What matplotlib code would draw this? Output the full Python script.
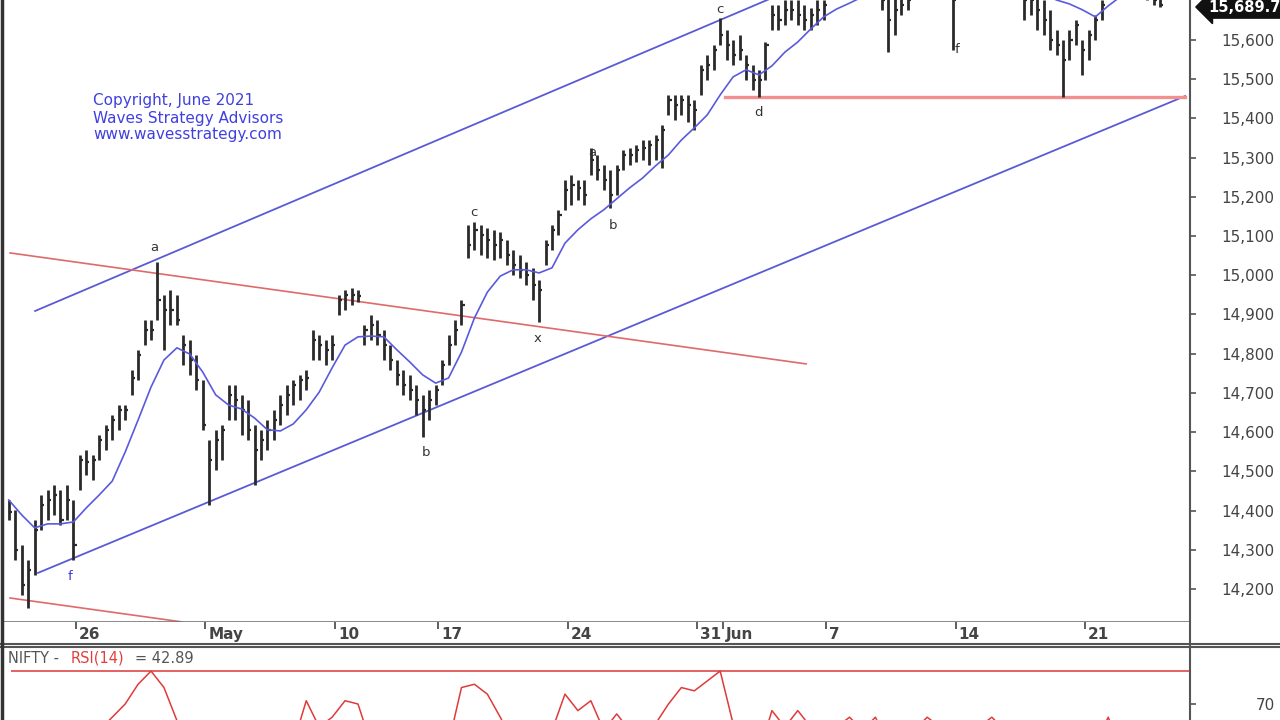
#!/usr/bin/env python3
# -*- coding: utf-8 -*-

import matplotlib
matplotlib.use('Agg')
from matplotlib import pyplot as plt
from matplotlib.lines import Line2D
import matplotlib.transforms as mtransforms
import numpy as np

# NIFTY hourly-style bars, 4 bars per trading day (x unit = trading days from Apr 26)
bar_start = -2.6
bar_step = 0.25

highs = [14427, 14401, 14312, 14274, 14376, 14440, 14453, 14465, 14453, 14465,
         14427, 14542, 14555, 14542, 14593, 14618, 14644, 14669, 14669, 14759,
         14810, 14886, 14886, 15034, 14950, 14962, 14950, 14848, 14835, 14797,
         14733, 14580, 14606, 14618, 14720, 14720, 14695, 14682, 14618, 14606,
         14631, 14657, 14695, 14720, 14733, 14746, 14759, 14860, 14848, 14835,
         14848, 14950, 14962, 14968, 14962, 14873, 14899, 14886, 14860, 14822,
         14784, 14759, 14746, 14720, 14695, 14708, 14720, 14784, 14848, 14886,
         14937, 15128, 15136, 15128, 15121, 15116, 15110, 15090, 15065, 15052,
         15034, 15019, 14988, 15090, 15128, 15167, 15243, 15256, 15243, 15243,
         15325, 15307, 15281, 15269, 15281, 15320, 15325, 15332, 15345, 15345,
         15358, 15383, 15460, 15460, 15460, 15460, 15447, 15536, 15562, 15587,
         15656, 15626, 15600, 15613, 15562, 15536, 15524, 15595, 15689, 15689,
         15702, 15702, 15702, 15689, 15682, 15702, 15702, 15715, 15728, 15740,
         15740, 15753, 15753, 15766, 15753, 15728, 15715, 15715, 15715, 15728,
         15740, 15753, 15766, 15766, 15753, 15740, 15733, 15740, 15753, 15766,
         15779, 15779, 15773, 15766, 15758, 15753, 15740, 15728, 15715, 15715,
         15702, 15677, 15626, 15600, 15626, 15651, 15600, 15626, 15664, 15702,
         15728, 15740, 15753, 15753, 15748, 15740, 15728, 15715, 15715]

lows = [14376, 14274, 14185, 14152, 14236, 14351, 14376, 14389, 14363, 14376,
        14274, 14453, 14491, 14478, 14529, 14555, 14580, 14606, 14631, 14695,
        14733, 14822, 14835, 14886, 14810, 14873, 14873, 14771, 14746, 14708,
        14606, 14414, 14504, 14529, 14631, 14631, 14593, 14580, 14465, 14529,
        14555, 14580, 14618, 14644, 14669, 14682, 14708, 14784, 14784, 14771,
        14784, 14899, 14912, 14924, 14932, 14822, 14835, 14822, 14784, 14759,
        14720, 14695, 14682, 14644, 14588, 14631, 14669, 14720, 14771, 14822,
        14873, 15044, 15065, 15052, 15044, 15039, 15044, 15026, 15001, 14993,
        14975, 14937, 14881, 15026, 15065, 15103, 15167, 15179, 15192, 15179,
        15256, 15243, 15218, 15172, 15205, 15269, 15281, 15289, 15294, 15281,
        15294, 15274, 15409, 15396, 15409, 15391, 15371, 15460, 15498, 15524,
        15587, 15549, 15536, 15549, 15498, 15472, 15455, 15498, 15626, 15626,
        15638, 15651, 15638, 15626, 15626, 15638, 15651, 15707, 15715, 15722,
        15728, 15728, 15728, 15722, 15715, 15677, 15569, 15613, 15664, 15677,
        15710, 15715, 15722, 15722, 15715, 15710, 15575, 15710, 15715, 15722,
        15728, 15728, 15722, 15715, 15715, 15710, 15707, 15651, 15664, 15626,
        15613, 15575, 15562, 15455, 15549, 15587, 15511, 15549, 15600, 15651,
        15707, 15715, 15715, 15715, 15710, 15707, 15702, 15689, 15685]

closes = [14396, 14300, 14210, 14249, 14351, 14414, 14427, 14440, 14376, 14427,
          14312, 14529, 14524, 14529, 14580, 14606, 14631, 14657, 14657, 14738,
          14797, 14860, 14860, 14937, 14912, 14912, 14886, 14822, 14784, 14733,
          14618, 14529, 14580, 14606, 14695, 14682, 14657, 14606, 14555, 14580,
          14606, 14631, 14669, 14695, 14720, 14733, 14738, 14835, 14822, 14810,
          14822, 14937, 14950, 14950, 14947, 14860, 14873, 14848, 14822, 14784,
          14746, 14720, 14708, 14682, 14657, 14682, 14708, 14771, 14822, 14860,
          14924, 15077, 15116, 15103, 15090, 15077, 15090, 15052, 15026, 15014,
          15001, 14975, 14962, 15077, 15116, 15154, 15218, 15230, 15223, 15205,
          15294, 15269, 15243, 15205, 15269, 15307, 15307, 15320, 15325, 15332,
          15345, 15371, 15447, 15434, 15447, 15434, 15422, 15524, 15536, 15575,
          15613, 15587, 15562, 15575, 15536, 15498, 15498, 15587, 15664, 15651,
          15677, 15677, 15664, 15651, 15664, 15677, 15689, 15710, 15720, 15730,
          15735, 15740, 15740, 15745, 15735, 15702, 15651, 15677, 15689, 15702,
          15725, 15735, 15745, 15745, 15735, 15725, 15702, 15725, 15735, 15745,
          15755, 15755, 15750, 15740, 15735, 15730, 15720, 15702, 15702, 15677,
          15651, 15600, 15587, 15549, 15600, 15638, 15575, 15613, 15651, 15689,
          15720, 15730, 15735, 15735, 15730, 15725, 15715, 15702, 15689.7]

# moving average and RSI(14), read at every second bar
ma_vals = [14427, 14389, 14356, 14366, 14366, 14371, 14407, 14440, 14475, 14549,
           14631, 14715, 14784, 14815, 14799, 14753, 14695, 14669, 14659, 14636,
           14606, 14603, 14621, 14657, 14702, 14764, 14822, 14843, 14845, 14843,
           14810, 14779, 14746, 14725, 14738, 14804, 14891, 14957, 14998, 15014,
           15014, 15006, 15019, 15082, 15116, 15144, 15167, 15195, 15223, 15248,
           15279, 15307, 15345, 15376, 15409, 15460, 15506, 15524, 15511, 15534,
           15569, 15595, 15628, 15659, 15679, 15694, 15710, 15722, 15733, 15740,
           15745, 15750, 15753, 15753, 15756, 15758, 15758, 15753, 15740, 15728,
           15717, 15702, 15692, 15677, 15659, 15687, 15712, 15728, 15740, 15748]

rsi_vals = [50, 45, 52, 55, 55, 50, 58, 62, 66, 70,
            76, 80, 75, 65, 58, 48, 45, 52, 50, 45,
            50, 55, 58, 71, 63, 66, 71, 70, 58, 52,
            48, 45, 42, 48, 58, 75, 76, 73, 66, 58,
            55, 50, 62, 73, 68, 71, 62, 67, 62, 63,
            64, 70, 75, 74, 77, 80, 64, 58, 55, 68,
            63, 68, 63, 62, 63, 66, 62, 66, 58, 60,
            62, 66, 63, 58, 60, 63, 66, 62, 63, 58,
            55, 50, 52, 50, 58, 66, 55, 50, 46, 43]

tick_days = [0, 5, 10, 14, 19, 24, 25, 29, 34, 39]
tick_labels = ["26", "May", "10", "17", "24", "31", "Jun", "7", "14", "21"]
price_ticks = list(range(14200, 15700, 100))

# trend lines: (days, prices)
upper_channel = ([-1.58, 28.0], [14909, 15738])
lower_channel = ([-1.47, 42.87], [14241, 15457])
red_fall = ([-2.55, 28.22], [15057, 14774])
red_bottom = ([-2.55, 4.10], [14177, 14116])
red_flat = ([25.09, 42.87], [15455, 15455])

wave_days = [3.02, -0.23, 13.53, 15.38, 17.86, 19.95, 20.76, 24.89, 26.40, 34.05]
wave_prices = [15070, 14233, 14549, 15159, 14840, 15312, 15128, 15677, 15416, 15575]
wave_text = ["a", "f", "b", "c", "x", "a", "b", "c", "d", "f"]
wave_colors = ["#333333", "#3c3cd0", "#333333", "#333333", "#333333",
               "#333333", "#333333", "#333333", "#333333", "#333333"]

W, H = 1280, 720
XMIN, XMAX = -2.822, 43.06


def frac(x0, y0, x1, y1):
    return [x0 / W, 1 - y1 / H, (x1 - x0) / W, (y1 - y0) / H]


def fig_line(fig, xs, ys, **kw):
    fig.add_artist(Line2D([x / W for x in xs], [1 - y / H for y in ys],
                          transform=fig.transFigure, **kw))


def right_ticks(ax, ticks, labels):
    ax.yaxis.tick_right()
    ax.set_yticks(ticks)
    ax.set_yticklabels(labels)
    ax.tick_params(axis='y', direction='out', length=4, width=1.2, color='#555555',
                   pad=57, labelsize=11, labelcolor='#444444')
    for lbl in ax.get_yticklabels():
        lbl.set_horizontalalignment('right')


def plot_chart():
    t = bar_start + bar_step * np.arange(len(closes))

    fig = plt.figure(figsize=(12.8, 7.2), dpi=100)
    fig.patch.set_facecolor('white')

    # ---- price panel
    ax = fig.add_axes(frac(3, 0, 1190, 622))
    ax.set_xlim(XMIN, XMAX)
    ax.set_ylim(14115.8, 15702)
    for s in ['left', 'top']:
        ax.spines[s].set_visible(False)
    ax.spines['right'].set_color('#555555')
    ax.spines['right'].set_linewidth(1.5)
    ax.spines['bottom'].set_color('#777777')
    ax.spines['bottom'].set_linewidth(1.2)
    ax.set_xticks([])
    right_ticks(ax, price_ticks, ["{:,}".format(p) for p in price_ticks])

    ax.plot(*upper_channel, color='#5a5ad6', lw=1.3)
    ax.plot(*lower_channel, color='#5a5ad6', lw=1.3)
    ax.plot(*red_fall, color='#e06a6a', lw=1.2)
    ax.plot(*red_bottom, color='#e06a6a', lw=1.2)
    ax.plot(*red_flat, color='#f29090', lw=2.4)

    ax.vlines(t, lows, highs, color='#2a2a2a', lw=2.0)
    ax.hlines(closes, t, t + 0.12, color='#2a2a2a', lw=1.6)
    ax.plot(t[::2], ma_vals, color='#5a5adc', lw=1.2)

    for d, p, s, c in zip(wave_days, wave_prices, wave_text, wave_colors):
        ax.text(d, p, s, ha='center', va='center', fontsize=9.5, color=c)

    for y, line in zip([101, 118, 135], ["Copyright, June 2021",
                                         "Waves Strategy Advisors",
                                         "www.wavesstrategy.com"]):
        fig.text(93 / W, 1 - y / H, line, color='#4040e0', fontsize=11,
                 va='center', ha='left')

    fig.text(1208 / W, 1 - 7 / H, "{:,.1f}".format(closes[-1]), color='white',
             fontsize=10.5, fontweight='bold', va='center', ha='left',
             bbox=dict(boxstyle='larrow,pad=0.25', fc='#111111', ec='#111111'))

    # ---- date strip
    axd = fig.add_axes(frac(3, 622, 1190, 645))
    axd.set_xlim(XMIN, XMAX)
    axd.set_ylim(0, 1)
    for s in ['left', 'top', 'bottom']:
        axd.spines[s].set_visible(False)
    axd.spines['right'].set_color('#555555')
    axd.spines['right'].set_linewidth(1.5)
    axd.set_yticks([])
    axd.xaxis.set_ticks_position('top')
    axd.set_xticks(tick_days)
    axd.set_xticklabels([])
    axd.tick_params(axis='x', direction='in', length=5, width=1.2, color='#444444')
    for d, s in zip(tick_days, tick_labels):
        axd.text(d + 0.12, 0.45, s, ha='left', va='center', fontsize=11,
                 fontweight='bold', color='#444444')

    # ---- RSI panel
    axr = fig.add_axes(frac(3, 648, 1190, 720))
    axr.set_xlim(XMIN, XMAX)
    axr.set_ylim(65.15, 87.0)
    for s in ['left', 'top', 'bottom']:
        axr.spines[s].set_visible(False)
    axr.spines['right'].set_color('#555555')
    axr.spines['right'].set_linewidth(1.5)
    axr.set_xticks([])
    right_ticks(axr, [70], ["70"])
    axr.hlines(80, -2.5, XMAX, color='#e05555', lw=1.3)
    axr.plot(t[::2], rsi_vals, color='#e03a3a', lw=1.1)

    trans = mtransforms.blended_transform_factory(fig.transFigure, axr.transAxes)
    axr.text(8 / W, 0.86, "NIFTY -", transform=trans, fontsize=10.5,
             color='#555555', va='center', ha='left')
    axr.text(71 / W, 0.86, "RSI(14)", transform=trans, fontsize=10.5,
             color='#e04040', va='center', ha='left')
    axr.text(135 / W, 0.86, "= 42.89", transform=trans, fontsize=10.5,
             color='#555555', va='center', ha='left')

    # frame lines
    fig_line(fig, [0, 1280], [643.5, 643.5], color='#555555', lw=1.5)
    fig_line(fig, [0, 1280], [647, 647], color='#555555', lw=1.5)
    fig_line(fig, [1.5, 1.5], [0, 720], color='#333333', lw=2.5)

    fig.savefig('out.png', dpi=100)


def main():
    plot_chart()


if __name__ == "__main__":
    main()
